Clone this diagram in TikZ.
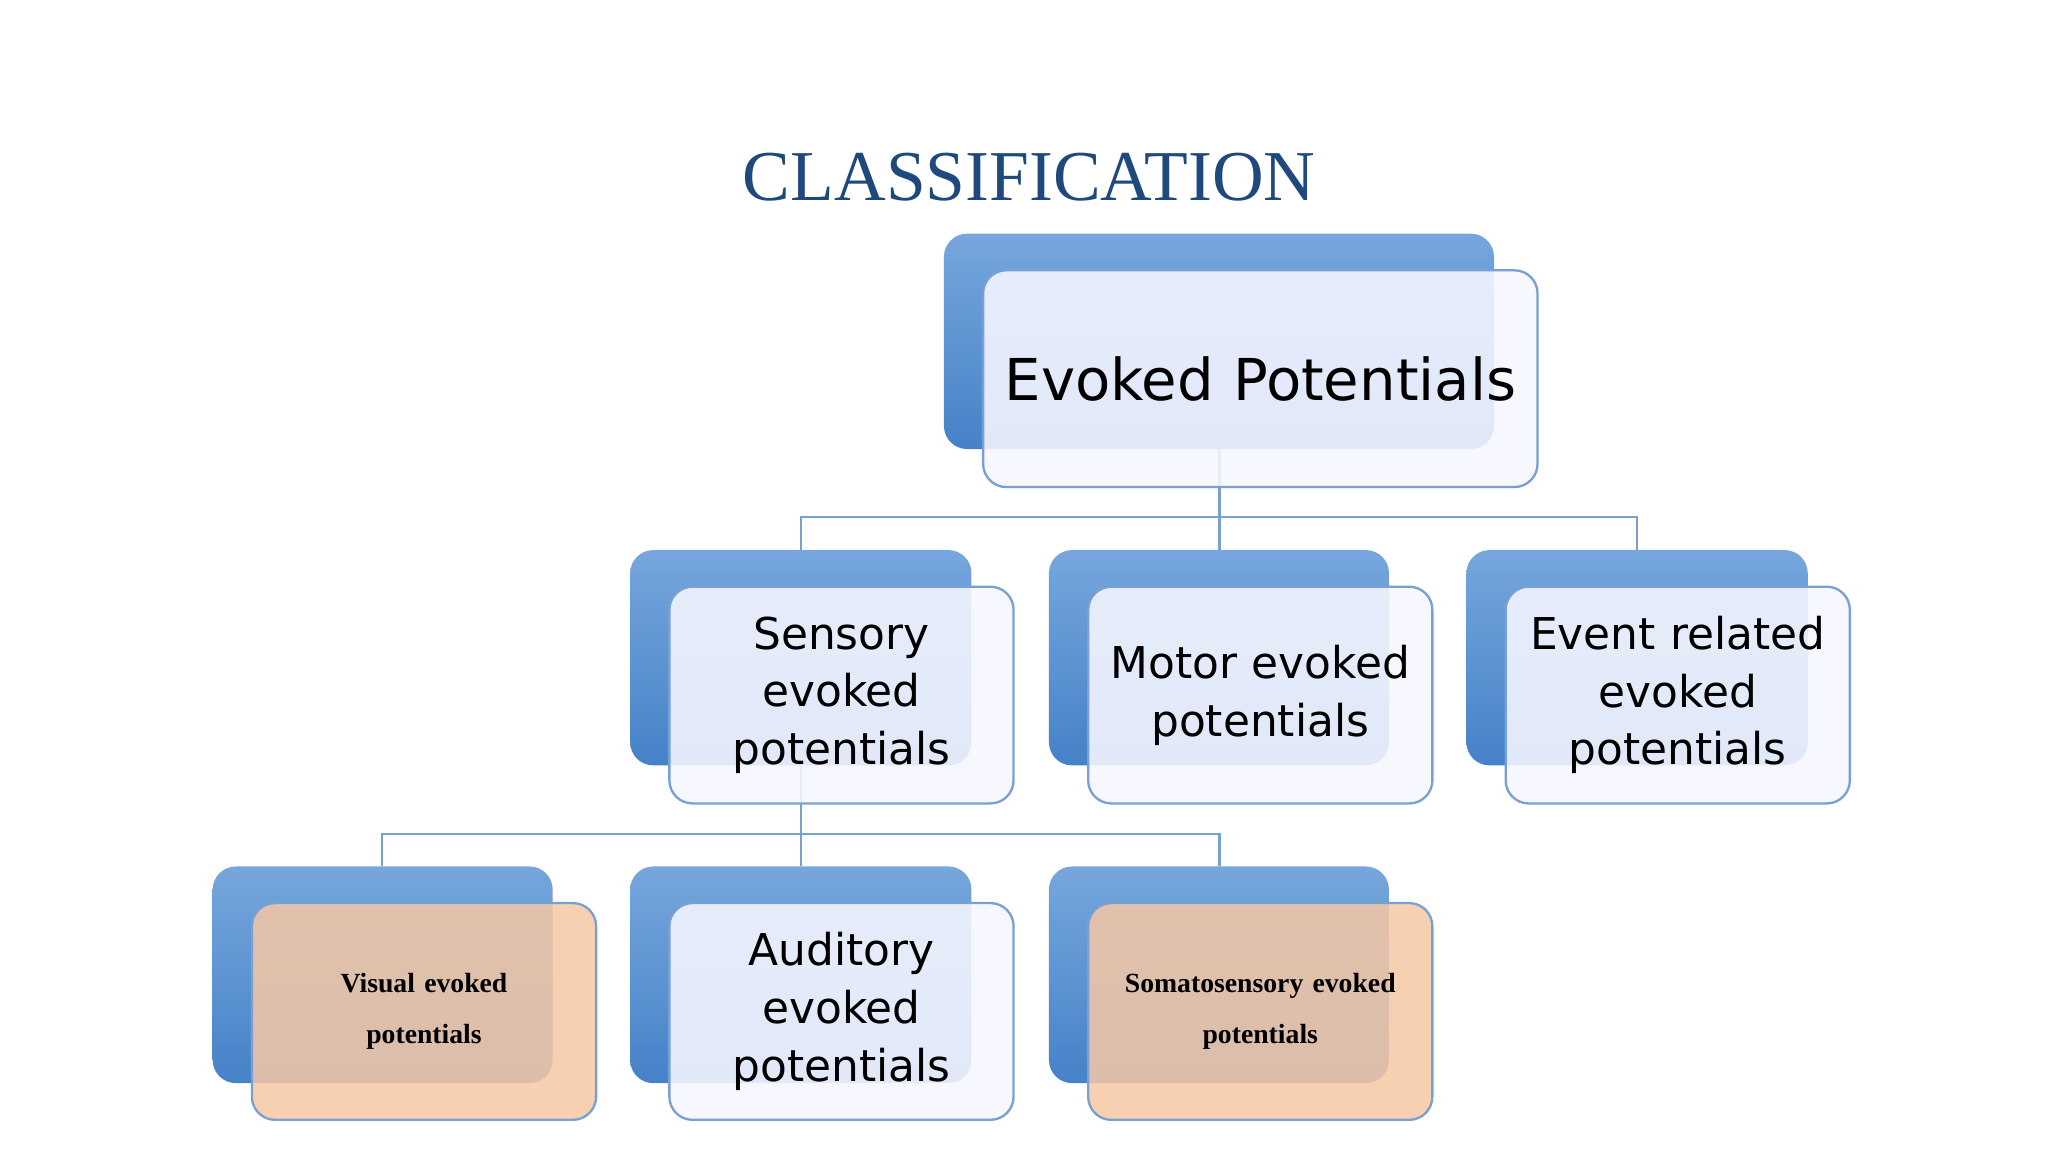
\documentclass[tikz,border=0pt]{standalone}
\usepackage{fontspec}
\setmainfont{DejaVu Sans}
\newfontfamily\serifb{Liberation Serif}
\newfontfamily\titlef{Liberation Serif}
\definecolor{tblue}{RGB}{31,73,125}
\definecolor{btop}{RGB}{118,166,220}
\definecolor{bbot}{RGB}{70,130,200}
\definecolor{edge}{RGB}{120,160,210}
\definecolor{pch}{RGB}{246,200,165}
\begin{document}
\begin{tikzpicture}[x=0.01cm,y=-0.01cm,
  back/.style={rounded corners=5pt, top color=btop, bottom color=bbot, draw=none},
  bx/.style={rounded corners=5pt, draw=edge, line width=0.5pt, text opacity=1, inner sep=1pt,
     minimum width=2.6cm, text width=2.55cm, minimum height=1.65cm, anchor=north west},
  front/.style={bx, fill=blue!3, fill opacity=0.88},
  peach/.style={bx, fill=pch, fill opacity=0.85},
  conn/.style={draw=edge, line width=0.5pt},
  big/.style={font=\fontsize{12.5}{15}\selectfont, align=center},
  mid/.style={font=\fontsize{9.5}{12.5}\selectfont, align=center},
  sm/.style={font=\serifb\bfseries\fontsize{6}{11}\selectfont, align=center}]
\useasboundingbox[fill=white] (0,0) rectangle (1560,877.5);
\node[font=\titlef\fontsize{15.5}{18}\selectfont, text=tblue] (title) at (784,135) {CLASSIFICATION};
% connectors
\coordinate (j1) at (929,394);
\coordinate (j2) at (610,635);
\draw[conn] (929,342) -- (j1) (610,419) |- (j1) -| (1247,419) (j1) -- (929,419);
\draw[conn] (610,583) -- (j2) (291,660) |- (j2) -| (929,660) (j2) -- (610,660);
% top
\path[back] (719,178) rectangle (1138,342);
\node[front, big, minimum width=4.19cm, text width=4.15cm] (ep) at (748,205) {\mbox{Evoked Potentials}};
% level 2
\path[back] (480,419) rectangle (740,583);
\node[front, mid] (sep) at (509,446) {Sensory\\evoked\\potentials};
\path[back] (799,419) rectangle (1058,583);
\node[front, mid] (mep) at (828,446) {Motor evoked\\potentials};
\path[back] (1117,419) rectangle (1377,583);
\node[front, mid] (erp) at (1146,446) {Event related\\evoked\\potentials};
% level 3
\path[back] (162,660) rectangle (421,825);
\node[peach, sm] (vep) at (191,687) {Visual evoked\\potentials};
\path[back] (480,660) rectangle (740,825);
\node[front, mid] (aep) at (509,687) {Auditory\\evoked\\potentials};
\path[back] (799,660) rectangle (1058,825);
\node[peach, sm] (ssep) at (828,687) {Somatosensory evoked\\potentials};
\end{tikzpicture}
\end{document}
